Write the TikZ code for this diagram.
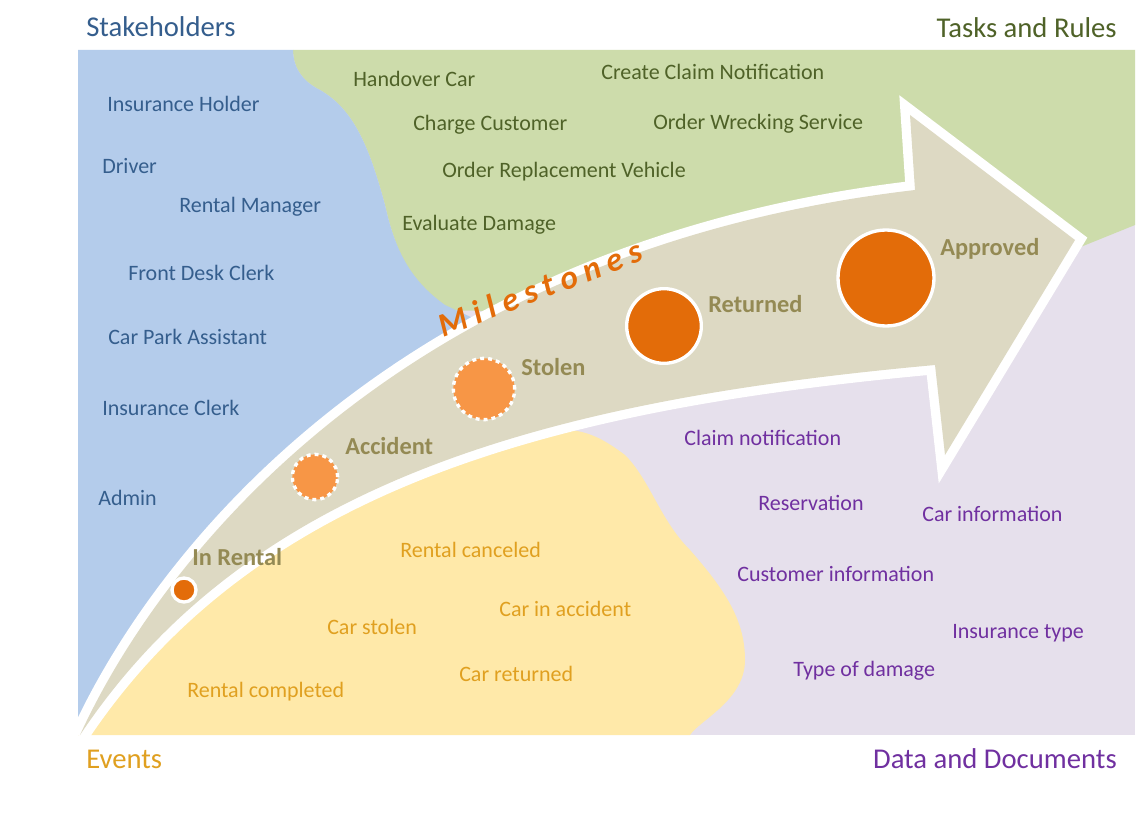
\documentclass[tikz,border=0pt]{standalone}
\usepackage{fontspec}
\setmainfont{Carlito}
\definecolor{bluebg}{HTML}{B4CCEB}
\definecolor{bluetx}{HTML}{355E8D}
\definecolor{greenbg}{HTML}{CDDCAB}
\definecolor{greentx}{HTML}{4F6228}
\definecolor{yellowbg}{HTML}{FFE9A9}
\definecolor{yellowtx}{HTML}{E0A020}
\definecolor{lavbg}{HTML}{E6E0EC}
\definecolor{lavtx}{HTML}{7030A0}
\definecolor{beige}{HTML}{DDD9C3}
\definecolor{beigetx}{HTML}{948A54}
\definecolor{orng}{HTML}{E36C09}
\definecolor{lorng}{HTML}{F79646}
\begin{document}
\begin{tikzpicture}[x=0.75pt,y=-0.75pt,
 lbl/.style={font=\fontsize{16.5}{18}\selectfont,anchor=west,inner sep=0},
 sh/.style={lbl,text=bluetx}, gr/.style={lbl,text=greentx},
 ye/.style={lbl,text=yellowtx}, lv/.style={lbl,text=lavtx},
 ms/.style={font=\bfseries\fontsize{18.3}{20}\selectfont,text=beigetx,anchor=west,inner sep=0},
 hd/.style={font=\fontsize{21.5}{23}\selectfont,inner sep=0},
 dot/.style={circle,fill=orng,draw=white,line width=2.5pt,inner sep=0},
 ldot/.style={circle,fill=lorng,draw=white,dashed,line width=2.5pt,inner sep=0}]
\useasboundingbox (0,0) rectangle (1138,831);
\fill[white] (0,0) rectangle (1138,831);
% regions
\fill[lavbg] (78,50) rectangle (1135,735);
\fill[greenbg] (293,50) -- (1135,50) -- (1135,225) -- (900,320) -- (440,310)
  .. controls (410,280) and (395,250) .. (385,205)
  .. controls (370,150) and (355,110) .. (320,90)
  .. controls (300,80) and (293,65) .. cycle;
\fill[bluebg] (78,50) -- (293,50) .. controls (293,65) and (300,80) .. (320,90)
  .. controls (355,110) and (370,150) .. (385,205)
  .. controls (395,250) and (410,280) .. (445,305) -- (520,340) -- (200,620) -- (78,735) -- cycle;
\fill[yellowbg] (78,735) -- (690,735) .. controls (700,720) and (745,700) .. (745,660)
  .. controls (745,620) and (725,590) .. (690,550)
  .. controls (660,520) and (650,480) .. (625,455)
  .. controls (605,440) and (590,432) .. (570,430) -- (520,400) -- (250,520) -- (100,720) -- cycle;
% arrow
\def\arrowpath{(80,735) .. controls (160,560) and (400,250) .. (915,190)
  -- (910,115) -- (1075,240) -- (945,455) -- (935,365)
  .. controls (550,400) and (250,480) .. (80,735) -- cycle}
\path[fill=beige,draw=white,line width=14pt,line join=miter] \arrowpath;
\fill[beige] \arrowpath;
\node[rotate=21,text=orng,font=\bfseries\itshape\fontsize{25}{26}\selectfont\addfontfeature{LetterSpace=22}] (mil) at (540,288) {Milestones};
% milestones
\node[dot,minimum size=18] (m1) at (184,590) {};
\node[ldot,minimum size=34] (m2) at (315,477) {};
\node[ldot,minimum size=46] (m3) at (484,389) {};
\node[dot,minimum size=56] (m4) at (664,326) {};
\node[dot,minimum size=72] (m5) at (886,278) {};
\node[ms] (t1) at (192,557) {In Rental};
\node[ms] (t2) at (345,446) {Accident};
\node[ms] (t3) at (521,367) {Stolen};
\node[ms] (t4) at (708,304) {Returned};
\node[ms] (t5) at (940,249) {Approved};
% headings
\node[hd,text=bluetx,anchor=west] (h1) at (86,27) {Stakeholders};
\node[hd,text=greentx,anchor=east] (h2) at (1117,28) {Tasks and Rules};
\node[hd,text=yellowtx,anchor=west] (h3) at (86,759) {Events};
\node[hd,text=lavtx,anchor=east] (h4) at (1117,759) {Data and Documents};
% stakeholders
\node[sh] (s1) at (107,104) {Insurance Holder};
\node[sh] (s2) at (102,166) {Driver};
\node[sh] (s3) at (179,207) {Rental Manager};
\node[sh] (s4) at (128,273) {Front Desk Clerk};
\node[sh] (s5) at (108,337) {Car Park Assistant};
\node[sh] (s6) at (102,408) {Insurance Clerk};
\node[sh] (s7) at (98,498) {Admin};
% tasks
\node[gr] (g1) at (353,79) {Handover Car};
\node[gr] (g2) at (601,72) {Create Claim Notification};
\node[gr] (g3) at (413,125) {Charge Customer};
\node[gr] (g4) at (653,124) {Order Wrecking Service};
\node[gr] (g5) at (442,172) {Order Replacement Vehicle};
\node[gr] (g6) at (402,225) {Evaluate Damage};
% events
\node[ye] (e1) at (400,550) {Rental canceled};
\node[ye] (e2) at (499,609) {Car in accident};
\node[ye] (e3) at (327,627) {Car stolen};
\node[ye] (e4) at (459,674) {Car returned};
\node[ye] (e5) at (187,692) {Rental completed};
% data
\node[lv] (d1) at (684,438) {Claim notification};
\node[lv] (d2) at (758,503) {Reservation};
\node[lv] (d3) at (922,514) {Car information};
\node[lv] (d4) at (737,574) {Customer information};
\node[lv] (d5) at (952,633) {Insurance type};
\node[lv] (d6) at (793,671) {Type of damage};
\end{tikzpicture}
\end{document}
